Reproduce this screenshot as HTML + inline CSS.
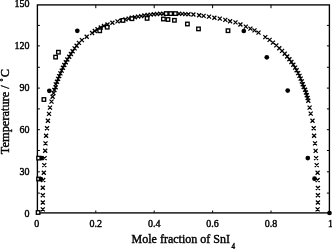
<!DOCTYPE html>
<html><head><meta charset="utf-8"><title>Phase diagram</title>
<style>html,body{margin:0;padding:0;background:#fff}svg{display:block}</style></head>
<body>
<svg width="332" height="249" viewBox="0 0 332 249">
<rect width="332" height="249" fill="#fff"/>
<rect x="37.4" y="4.9" width="292.0" height="208.0" fill="none" stroke="#000" stroke-width="1.35"/>
<path d="M37.4 193.1h2.5M329.4 193.1h-2.5M37.4 171.8h2.5M329.4 171.8h-2.5M37.4 150.5h2.5M329.4 150.5h-2.5M37.4 129.7h2.5M329.4 129.7h-2.5M37.4 108.9h2.5M329.4 108.9h-2.5M37.4 88.1h2.5M329.4 88.1h-2.5M37.4 67.3h2.5M329.4 67.3h-2.5M37.4 45.9h2.5M329.4 45.9h-2.5M37.4 25.4h2.5M329.4 25.4h-2.5M95.8 4.9v3.3M95.8 212.9v-2.4M154.2 4.9v3.3M154.2 212.9v-2.4M212.6 4.9v3.3M212.6 212.9v-2.4M271.0 4.9v3.3M271.0 212.9v-2.4" stroke="#000" stroke-width="1" fill="none"/>
<path d="M40.8 207.4l4.0 4.0M40.8 211.4l4.0 -4.0M40.8 200.5l4.0 4.0M40.8 204.5l4.0 -4.0M40.8 193.3l4.0 4.0M40.8 197.3l4.0 -4.0M40.8 185.7l4.0 4.0M40.8 189.7l4.0 -4.0M41.2 178.0l4.0 4.0M41.2 182.0l4.0 -4.0M41.8 170.7l4.0 4.0M41.8 174.7l4.0 -4.0M42.3 163.1l4.0 4.0M42.3 167.1l4.0 -4.0M42.6 156.1l4.0 4.0M42.6 160.1l4.0 -4.0M43.2 148.7l4.0 4.0M43.2 152.7l4.0 -4.0M43.5 141.4l4.0 4.0M43.5 145.4l4.0 -4.0M44.1 133.8l4.0 4.0M44.1 137.8l4.0 -4.0M45.0 126.3l4.0 4.0M45.0 130.3l4.0 -4.0M45.9 118.8l4.0 4.0M45.9 122.8l4.0 -4.0M47.0 111.9l4.0 4.0M47.0 115.9l4.0 -4.0M48.0 105.6l4.0 4.0M48.0 109.6l4.0 -4.0M49.5 99.6l4.0 4.0M49.5 103.6l4.0 -4.0M50.6 94.8l4.0 4.0M50.6 98.8l4.0 -4.0M51.5 91.1l4.0 4.0M51.5 95.1l4.0 -4.0M52.4 88.0l4.0 4.0M52.4 92.0l4.0 -4.0M53.6 85.2l4.0 4.0M53.6 89.2l4.0 -4.0M53.8 82.4l4.0 4.0M53.8 86.4l4.0 -4.0M55.0 79.7l4.0 4.0M55.0 83.7l4.0 -4.0M56.1 76.9l4.0 4.0M56.1 80.9l4.0 -4.0M57.2 74.1l4.0 4.0M57.2 78.1l4.0 -4.0M58.4 71.4l4.0 4.0M58.4 75.4l4.0 -4.0M59.7 68.6l4.0 4.0M59.7 72.6l4.0 -4.0M60.9 65.8l4.0 4.0M60.9 69.8l4.0 -4.0M62.3 63.0l4.0 4.0M62.3 67.0l4.0 -4.0M63.8 60.3l4.0 4.0M63.8 64.3l4.0 -4.0M65.3 57.5l4.0 4.0M65.3 61.5l4.0 -4.0M67.2 54.7l4.0 4.0M67.2 58.7l4.0 -4.0M68.9 52.0l4.0 4.0M68.9 56.0l4.0 -4.0M70.6 49.2l4.0 4.0M70.6 53.2l4.0 -4.0M72.6 46.4l4.0 4.0M72.6 50.4l4.0 -4.0M74.6 43.7l4.0 4.0M74.6 47.7l4.0 -4.0M76.9 40.9l4.0 4.0M76.9 44.9l4.0 -4.0M79.9 38.1l4.0 4.0M79.9 42.1l4.0 -4.0M84.7 34.8l4.0 4.0M84.7 38.8l4.0 -4.0M90.1 31.0l4.0 4.0M90.1 35.0l4.0 -4.0M92.8 29.0l4.0 4.0M92.8 33.0l4.0 -4.0M95.5 27.2l4.0 4.0M95.5 31.2l4.0 -4.0M98.8 25.5l4.0 4.0M98.8 29.5l4.0 -4.0M101.9 23.9l4.0 4.0M101.9 27.9l4.0 -4.0M105.5 22.5l4.0 4.0M105.5 26.5l4.0 -4.0M110.4 20.7l4.0 4.0M110.4 24.7l4.0 -4.0M115.5 19.4l4.0 4.0M115.5 23.4l4.0 -4.0M119.6 18.5l4.0 4.0M119.6 22.5l4.0 -4.0M123.5 17.4l4.0 4.0M123.5 21.4l4.0 -4.0M126.7 16.6l4.0 4.0M126.7 20.6l4.0 -4.0M129.8 15.8l4.0 4.0M129.8 19.8l4.0 -4.0M132.9 15.2l4.0 4.0M132.9 19.2l4.0 -4.0M136.1 14.6l4.0 4.0M136.1 18.6l4.0 -4.0M139.2 14.1l4.0 4.0M139.2 18.1l4.0 -4.0M142.4 13.5l4.0 4.0M142.4 17.5l4.0 -4.0M145.6 13.0l4.0 4.0M145.6 17.0l4.0 -4.0M148.7 12.6l4.0 4.0M148.7 16.6l4.0 -4.0M151.8 12.3l4.0 4.0M151.8 16.3l4.0 -4.0M155.0 12.0l4.0 4.0M155.0 16.0l4.0 -4.0M158.2 11.8l4.0 4.0M158.2 15.8l4.0 -4.0M161.3 11.7l4.0 4.0M161.3 15.7l4.0 -4.0M164.4 11.6l4.0 4.0M164.4 15.6l4.0 -4.0M167.6 11.5l4.0 4.0M167.6 15.5l4.0 -4.0M170.8 11.6l4.0 4.0M170.8 15.6l4.0 -4.0M173.9 11.6l4.0 4.0M173.9 15.6l4.0 -4.0M177.1 11.8l4.0 4.0M177.1 15.8l4.0 -4.0M180.2 11.9l4.0 4.0M180.2 15.9l4.0 -4.0M183.3 12.1l4.0 4.0M183.3 16.1l4.0 -4.0M186.5 12.3l4.0 4.0M186.5 16.3l4.0 -4.0M191.4 12.5l4.0 4.0M191.4 16.5l4.0 -4.0M197.1 13.2l4.0 4.0M197.1 17.2l4.0 -4.0M201.6 13.9l4.0 4.0M201.6 17.9l4.0 -4.0M207.0 14.6l4.0 4.0M207.0 18.6l4.0 -4.0M212.4 15.7l4.0 4.0M212.4 19.7l4.0 -4.0M217.8 16.6l4.0 4.0M217.8 20.6l4.0 -4.0M223.3 17.9l4.0 4.0M223.3 21.9l4.0 -4.0M228.1 19.3l4.0 4.0M228.1 23.3l4.0 -4.0M233.5 20.4l4.0 4.0M233.5 24.4l4.0 -4.0M238.4 22.5l4.0 4.0M238.4 26.5l4.0 -4.0M243.8 24.6l4.0 4.0M243.8 28.6l4.0 -4.0M248.4 26.6l4.0 4.0M248.4 30.6l4.0 -4.0M252.5 28.4l4.0 4.0M252.5 32.4l4.0 -4.0M256.5 30.6l4.0 4.0M256.5 34.6l4.0 -4.0M263.3 35.1l4.0 4.0M263.3 39.1l4.0 -4.0M267.6 37.9l4.0 4.0M267.6 41.9l4.0 -4.0M270.9 40.6l4.0 4.0M270.9 44.6l4.0 -4.0M274.3 43.4l4.0 4.0M274.3 47.4l4.0 -4.0M277.3 46.2l4.0 4.0M277.3 50.2l4.0 -4.0M280.1 48.9l4.0 4.0M280.1 52.9l4.0 -4.0M282.7 51.7l4.0 4.0M282.7 55.7l4.0 -4.0M285.2 54.5l4.0 4.0M285.2 58.5l4.0 -4.0M287.4 57.3l4.0 4.0M287.4 61.3l4.0 -4.0M289.4 60.0l4.0 4.0M289.4 64.0l4.0 -4.0M291.3 62.8l4.0 4.0M291.3 66.8l4.0 -4.0M293.1 65.6l4.0 4.0M293.1 69.6l4.0 -4.0M294.6 68.3l4.0 4.0M294.6 72.3l4.0 -4.0M296.1 71.1l4.0 4.0M296.1 75.1l4.0 -4.0M297.5 73.9l4.0 4.0M297.5 77.9l4.0 -4.0M298.7 76.6l4.0 4.0M298.7 80.6l4.0 -4.0M299.8 79.4l4.0 4.0M299.8 83.4l4.0 -4.0M300.7 82.2l4.0 4.0M300.7 86.2l4.0 -4.0M301.7 85.0l4.0 4.0M301.7 89.0l4.0 -4.0M303.1 87.7l4.0 4.0M303.1 91.7l4.0 -4.0M304.0 90.5l4.0 4.0M304.0 94.5l4.0 -4.0M304.8 93.3l4.0 4.0M304.8 97.3l4.0 -4.0M305.6 96.0l4.0 4.0M305.6 100.0l4.0 -4.0M306.3 98.8l4.0 4.0M306.3 102.8l4.0 -4.0M307.6 105.6l4.0 4.0M307.6 109.6l4.0 -4.0M308.7 111.6l4.0 4.0M308.7 115.6l4.0 -4.0M310.5 118.8l4.0 4.0M310.5 122.8l4.0 -4.0M311.7 126.2l4.0 4.0M311.7 130.2l4.0 -4.0M312.1 133.8l4.0 4.0M312.1 137.8l4.0 -4.0M313.0 141.4l4.0 4.0M313.0 145.4l4.0 -4.0M313.6 148.9l4.0 4.0M313.6 152.9l4.0 -4.0M314.1 156.1l4.0 4.0M314.1 160.1l4.0 -4.0M314.7 163.1l4.0 4.0M314.7 167.1l4.0 -4.0M315.6 170.7l4.0 4.0M315.6 174.7l4.0 -4.0M315.6 178.0l4.0 4.0M315.6 182.0l4.0 -4.0M315.9 186.0l4.0 4.0M315.9 190.0l4.0 -4.0M315.9 193.3l4.0 4.0M315.9 197.3l4.0 -4.0M315.9 200.5l4.0 4.0M315.9 204.5l4.0 -4.0M315.6 207.4l4.0 4.0M315.6 211.4l4.0 -4.0" stroke="#000" stroke-width="1.28" fill="none"/>
<rect x="36.35" y="210.75" width="3.5" height="3.5" fill="#fff" stroke="#000" stroke-width="1.35"/>
<rect x="36.85" y="177.25" width="3.5" height="3.5" fill="#fff" stroke="#000" stroke-width="1.35"/>
<rect x="36.85" y="156.35" width="3.5" height="3.5" fill="#fff" stroke="#000" stroke-width="1.35"/>
<rect x="42.15" y="97.75" width="3.5" height="3.5" fill="#fff" stroke="#000" stroke-width="1.35"/>
<rect x="53.85" y="55.35" width="3.5" height="3.5" fill="#fff" stroke="#000" stroke-width="1.35"/>
<rect x="56.65" y="50.45" width="3.5" height="3.5" fill="#fff" stroke="#000" stroke-width="1.35"/>
<rect x="97.95" y="29.05" width="3.5" height="3.5" fill="#fff" stroke="#000" stroke-width="1.35"/>
<rect x="105.45" y="25.45" width="3.5" height="3.5" fill="#fff" stroke="#000" stroke-width="1.35"/>
<rect x="121.25" y="18.65" width="3.5" height="3.5" fill="#fff" stroke="#000" stroke-width="1.35"/>
<rect x="130.15" y="16.95" width="3.5" height="3.5" fill="#fff" stroke="#000" stroke-width="1.35"/>
<rect x="145.35" y="16.65" width="3.5" height="3.5" fill="#fff" stroke="#000" stroke-width="1.35"/>
<rect x="161.65" y="17.25" width="3.5" height="3.5" fill="#fff" stroke="#000" stroke-width="1.35"/>
<rect x="166.25" y="17.75" width="3.5" height="3.5" fill="#fff" stroke="#000" stroke-width="1.35"/>
<rect x="172.65" y="18.55" width="3.5" height="3.5" fill="#fff" stroke="#000" stroke-width="1.35"/>
<rect x="164.45" y="11.85" width="3.5" height="3.5" fill="#fff" stroke="#000" stroke-width="1.35"/>
<rect x="168.95" y="11.85" width="3.5" height="3.5" fill="#fff" stroke="#000" stroke-width="1.35"/>
<rect x="173.55" y="11.85" width="3.5" height="3.5" fill="#fff" stroke="#000" stroke-width="1.35"/>
<rect x="185.65" y="22.25" width="3.5" height="3.5" fill="#fff" stroke="#000" stroke-width="1.35"/>
<rect x="196.75" y="27.15" width="3.5" height="3.5" fill="#fff" stroke="#000" stroke-width="1.35"/>
<rect x="226.25" y="28.95" width="3.5" height="3.5" fill="#fff" stroke="#000" stroke-width="1.35"/>
<circle cx="40.9" cy="179" r="2.35" fill="#000"/>
<circle cx="41.7" cy="158.1" r="2.35" fill="#000"/>
<circle cx="49.3" cy="90.8" r="2.35" fill="#000"/>
<circle cx="77.3" cy="30.8" r="2.35" fill="#000"/>
<circle cx="243.8" cy="31" r="2.35" fill="#000"/>
<circle cx="266.8" cy="57.3" r="2.35" fill="#000"/>
<circle cx="287.7" cy="90.6" r="2.35" fill="#000"/>
<circle cx="307.8" cy="158.1" r="2.35" fill="#000"/>
<circle cx="314.5" cy="178.7" r="2.35" fill="#000"/>
<circle cx="329.5" cy="213" r="2.35" fill="#000"/>
<g font-family="'Liberation Serif', serif" font-size="10" fill="#000" stroke="#000" stroke-width="0.4">
<text x="29.5" y="217.3" text-anchor="end">0</text>
<text x="29.5" y="174.6" text-anchor="end">30</text>
<text x="29.5" y="133.3" text-anchor="end">60</text>
<text x="29.5" y="90.9" text-anchor="end">90</text>
<text x="29.5" y="48.7" text-anchor="end">120</text>
<text x="29.5" y="6.7" text-anchor="end">150</text>
<text x="36.7" y="226.9" text-anchor="middle">0</text>
<text x="95.8" y="226.9" text-anchor="middle">0.2</text>
<text x="154.2" y="226.9" text-anchor="middle">0.4</text>
<text x="212.6" y="226.9" text-anchor="middle">0.6</text>
<text x="271.0" y="226.9" text-anchor="middle">0.8</text>
<text x="330.6" y="226.9" text-anchor="middle">1</text>
</g>
<g font-family="'Liberation Serif', serif" font-size="12" fill="#000" stroke="#000" stroke-width="0.4">
<text x="131.6" y="243.3">Mole fraction of SnI<tspan font-size="7.2" dx="1.6" dy="5.3">4</tspan></text>
<text font-size="12.4" transform="translate(9.3,154.2) rotate(-90)">Temperature / <tspan font-size="7.5" dx="0.6" dy="-3.2">°</tspan><tspan dx="1.4" dy="3.2">C</tspan></text>
</g>
</svg>
</body></html>
